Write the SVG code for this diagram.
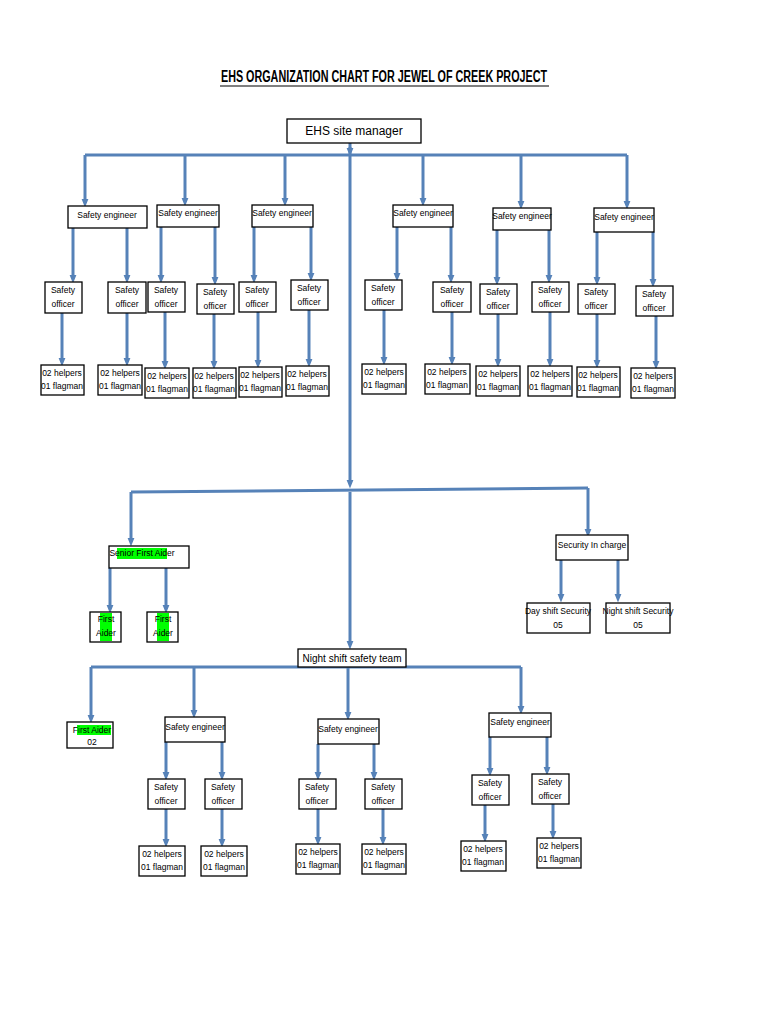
<svg xmlns="http://www.w3.org/2000/svg" width="768" height="1024" viewBox="0 0 768 1024">
<style>
.b{fill:#fff;stroke:#000;stroke-width:1.3}
text{font-family:"Liberation Sans",Arial,sans-serif;font-size:8.5px;fill:#000;text-anchor:middle}
.t{font-size:16px;font-weight:bold}
.m{font-size:12px}
.c line{stroke:#5682b8;stroke-width:3}
.a{marker-end:url(#ar)}
.g{fill:#00ff00}
</style>
<defs><marker id="ar" viewBox="0 0 10 10" refX="5" refY="5" markerWidth="3" markerHeight="3" orient="auto"><path d="M0,1L10,5L0,9z" fill="#5682b8"/></marker></defs>
<rect width="768" height="1024" fill="#fff"/>
<text class="t" x="384" y="82" textLength="326" lengthAdjust="spacingAndGlyphs">EHS ORGANIZATION CHART FOR JEWEL OF CREEK PROJECT</text>
<line x1="220" y1="86" x2="549" y2="86" stroke="#000" stroke-width="1.2"/>
<g class="c">
<line x1="85" y1="155" x2="627" y2="155"/>
<line class="a" x1="350" y1="143" x2="350" y2="484"/>
<line class="a" x1="350" y1="147" x2="350" y2="152"/>
<line class="a" x1="85" y1="155" x2="85" y2="203"/><line class="a" x1="185" y1="155" x2="185" y2="202"/><line class="a" x1="285" y1="155" x2="285" y2="202"/><line class="a" x1="423" y1="155" x2="423" y2="202"/><line class="a" x1="521" y1="155" x2="521" y2="205"/><line class="a" x1="627" y1="155" x2="627" y2="205"/>
<line class="a" x1="73" y1="228" x2="73" y2="279"/><line class="a" x1="127" y1="228" x2="127" y2="279"/><line class="a" x1="161" y1="227" x2="161" y2="279"/><line class="a" x1="215" y1="227" x2="215" y2="281"/><line class="a" x1="254" y1="227" x2="254" y2="279"/><line class="a" x1="311" y1="227" x2="311" y2="277"/><line class="a" x1="397" y1="227" x2="397" y2="277"/><line class="a" x1="451" y1="227" x2="451" y2="279"/><line class="a" x1="497" y1="230" x2="497" y2="281"/><line class="a" x1="549" y1="230" x2="549" y2="279"/><line class="a" x1="597" y1="232" x2="597" y2="281"/><line class="a" x1="653" y1="232" x2="653" y2="283"/>
<line class="a" x1="62" y1="313" x2="62" y2="362"/><line class="a" x1="127" y1="313" x2="127" y2="362"/><line class="a" x1="165" y1="312" x2="165" y2="365"/><line class="a" x1="214" y1="314" x2="214" y2="365"/><line class="a" x1="258" y1="312" x2="258" y2="364"/><line class="a" x1="309" y1="310" x2="309" y2="363"/><line class="a" x1="384" y1="310" x2="384" y2="361"/><line class="a" x1="452" y1="312" x2="452" y2="361"/><line class="a" x1="498" y1="314" x2="498" y2="363"/><line class="a" x1="550" y1="312" x2="550" y2="363"/><line class="a" x1="597" y1="314" x2="597" y2="364"/><line class="a" x1="656" y1="316" x2="656" y2="365"/>
<line x1="131" y1="492" x2="588" y2="488"/>
<line class="a" x1="350" y1="492" x2="350" y2="645"/>
<line class="a" x1="131" y1="492" x2="131" y2="542"/><line class="a" x1="588" y1="488" x2="588" y2="533"/>
<line class="a" x1="110" y1="568" x2="110" y2="609"/><line class="a" x1="166" y1="568" x2="166" y2="609"/>
<line class="a" x1="561" y1="560" x2="561" y2="598"/><line class="a" x1="618" y1="560" x2="618" y2="598"/>
<line x1="91" y1="667" x2="521" y2="667"/>
<line class="a" x1="91" y1="667" x2="91" y2="719"/><line class="a" x1="194" y1="667" x2="194" y2="714"/><line class="a" x1="348" y1="667" x2="348" y2="716"/><line class="a" x1="521" y1="667" x2="521" y2="710"/>
<line class="a" x1="166" y1="742" x2="166" y2="776"/><line class="a" x1="222" y1="742" x2="222" y2="776"/><line class="a" x1="318" y1="744" x2="318" y2="776"/><line class="a" x1="374" y1="744" x2="374" y2="776"/><line class="a" x1="490" y1="737" x2="490" y2="772"/><line class="a" x1="547" y1="737" x2="547" y2="771"/>
<line class="a" x1="166" y1="809" x2="166" y2="843"/><line class="a" x1="222" y1="809" x2="222" y2="843"/><line class="a" x1="318" y1="809" x2="318" y2="841"/><line class="a" x1="383" y1="809" x2="383" y2="841"/><line class="a" x1="485" y1="805" x2="485" y2="838"/><line class="a" x1="553" y1="804" x2="553" y2="835"/>
</g>
<g id="mgr"><rect class="b" x="287" y="119" width="134" height="24"/><text class="m" x="354" y="135">EHS site manager</text></g>
<g id="engs">
<rect class="b" x="68" y="206" width="79" height="22"/><text x="107" y="218">Safety engineer</text>
<rect class="b" x="157" y="205" width="62" height="22"/><text x="188" y="216">Safety engineer</text>
<rect class="b" x="252" y="205" width="61" height="22"/><text x="282" y="216">Safety engineer</text>
<rect class="b" x="393" y="205" width="60" height="22"/><text x="423" y="216">Safety engineer</text>
<rect class="b" x="493" y="208" width="58" height="22"/><text x="522" y="219">Safety engineer</text>
<rect class="b" x="594" y="208" width="60" height="24"/><text x="624" y="220">Safety engineer</text>
</g>
<g id="officers">
<rect class="b" x="45" y="282" width="37" height="31"/><text x="63" y="293">Safety</text><text x="63" y="307">officer</text>
<rect class="b" x="108" y="282" width="38" height="31"/><text x="127" y="293">Safety</text><text x="127" y="307">officer</text>
<rect class="b" x="148" y="282" width="37" height="30"/><text x="166" y="293">Safety</text><text x="166" y="307">officer</text>
<rect class="b" x="197" y="284" width="37" height="30"/><text x="215" y="295">Safety</text><text x="215" y="309">officer</text>
<rect class="b" x="239" y="282" width="37" height="30"/><text x="257" y="293">Safety</text><text x="257" y="307">officer</text>
<rect class="b" x="291" y="280" width="37" height="30"/><text x="309" y="291">Safety</text><text x="309" y="305">officer</text>
<rect class="b" x="365" y="280" width="37" height="30"/><text x="383" y="291">Safety</text><text x="383" y="305">officer</text>
<rect class="b" x="433" y="282" width="38" height="30"/><text x="452" y="293">Safety</text><text x="452" y="307">officer</text>
<rect class="b" x="480" y="284" width="37" height="30"/><text x="498" y="295">Safety</text><text x="498" y="309">officer</text>
<rect class="b" x="532" y="282" width="37" height="30"/><text x="550" y="293">Safety</text><text x="550" y="307">officer</text>
<rect class="b" x="578" y="284" width="37" height="30"/><text x="596" y="295">Safety</text><text x="596" y="309">officer</text>
<rect class="b" x="636" y="286" width="37" height="30"/><text x="654" y="297">Safety</text><text x="654" y="311">officer</text>
</g>
<g id="helpers">
<rect class="b" x="41" y="365" width="43" height="30"/><text x="62" y="376">02 helpers</text><text x="62" y="389">01 flagman</text>
<rect class="b" x="98" y="365" width="44" height="30"/><text x="120" y="376">02 helpers</text><text x="120" y="389">01 flagman</text>
<rect class="b" x="145" y="368" width="44" height="30"/><text x="167" y="379">02 helpers</text><text x="167" y="392">01 flagman</text>
<rect class="b" x="193" y="368" width="43" height="30"/><text x="214" y="379">02 helpers</text><text x="214" y="392">01 flagman</text>
<rect class="b" x="239" y="367" width="43" height="30"/><text x="260" y="378">02 helpers</text><text x="260" y="391">01 flagman</text>
<rect class="b" x="286" y="366" width="43" height="30"/><text x="307" y="377">02 helpers</text><text x="307" y="390">01 flagman</text>
<rect class="b" x="362" y="364" width="44" height="30"/><text x="384" y="375">02 helpers</text><text x="384" y="388">01 flagman</text>
<rect class="b" x="425" y="364" width="45" height="30"/><text x="447" y="375">02 helpers</text><text x="447" y="388">01 flagman</text>
<rect class="b" x="476" y="366" width="44" height="30"/><text x="498" y="377">02 helpers</text><text x="498" y="390">01 flagman</text>
<rect class="b" x="528" y="366" width="44" height="30"/><text x="550" y="377">02 helpers</text><text x="550" y="390">01 flagman</text>
<rect class="b" x="577" y="367" width="43" height="30"/><text x="598" y="378">02 helpers</text><text x="598" y="391">01 flagman</text>
<rect class="b" x="631" y="368" width="44" height="30"/><text x="653" y="379">02 helpers</text><text x="653" y="392">01 flagman</text>
</g>
<g id="firstaid">
<rect class="b" x="109" y="546" width="80" height="22"/><rect class="g" x="117" y="548" width="50" height="11"/><text x="142" y="556">Senior First Aider</text>
<rect class="b" x="90" y="612" width="31" height="30"/><rect class="g" x="100" y="613" width="12" height="28"/><text x="106" y="622">First</text><text x="106" y="636">Aider</text>
<rect class="b" x="147" y="612" width="31" height="30"/><rect class="g" x="157" y="613" width="12" height="28"/><text x="163" y="622">First</text><text x="163" y="636">Aider</text>
</g>
<g id="security">
<rect class="b" x="556" y="535" width="72" height="25"/><text x="592" y="548">Security In charge</text>
<rect class="b" x="527" y="603" width="63" height="30"/><text x="558" y="614">Day shift Security</text><text x="558" y="628">05</text>
<rect class="b" x="606" y="603" width="64" height="30"/><text x="638" y="614">Night shift Security</text><text x="638" y="628">05</text>
</g>
<g id="night">
<rect class="b" x="298" y="649" width="108" height="18"/><text x="352" y="662" style="font-size:10px">Night shift safety team</text>
<rect class="b" x="67" y="722" width="46" height="26"/><rect class="g" x="77" y="725" width="34" height="10"/><text x="92" y="733">First Aider</text><text x="92" y="745">02</text>
<rect class="b" x="165" y="717" width="60" height="25"/><text x="195" y="730">Safety engineer</text>
<rect class="b" x="318" y="719" width="61" height="25"/><text x="348" y="732">Safety engineer</text>
<rect class="b" x="489" y="713" width="62" height="24"/><text x="520" y="725">Safety engineer</text>
<rect class="b" x="148" y="779" width="37" height="30"/><text x="166" y="790">Safety</text><text x="166" y="804">officer</text>
<rect class="b" x="205" y="779" width="37" height="30"/><text x="223" y="790">Safety</text><text x="223" y="804">officer</text>
<rect class="b" x="299" y="779" width="37" height="30"/><text x="317" y="790">Safety</text><text x="317" y="804">officer</text>
<rect class="b" x="365" y="779" width="37" height="30"/><text x="383" y="790">Safety</text><text x="383" y="804">officer</text>
<rect class="b" x="472" y="775" width="37" height="30"/><text x="490" y="786">Safety</text><text x="490" y="800">officer</text>
<rect class="b" x="532" y="774" width="37" height="30"/><text x="550" y="785">Safety</text><text x="550" y="799">officer</text>
<rect class="b" x="139" y="846" width="46" height="30"/><text x="162" y="857">02 helpers</text><text x="162" y="870">01 flagman</text>
<rect class="b" x="201" y="846" width="46" height="30"/><text x="224" y="857">02 helpers</text><text x="224" y="870">01 flagman</text>
<rect class="b" x="296" y="844" width="44" height="30"/><text x="318" y="855">02 helpers</text><text x="318" y="868">01 flagman</text>
<rect class="b" x="362" y="844" width="44" height="30"/><text x="384" y="855">02 helpers</text><text x="384" y="868">01 flagman</text>
<rect class="b" x="461" y="841" width="45" height="30"/><text x="483" y="852">02 helpers</text><text x="483" y="865">01 flagman</text>
<rect class="b" x="537" y="838" width="44" height="30"/><text x="559" y="849">02 helpers</text><text x="559" y="862">01 flagman</text>
</g>
</svg>
